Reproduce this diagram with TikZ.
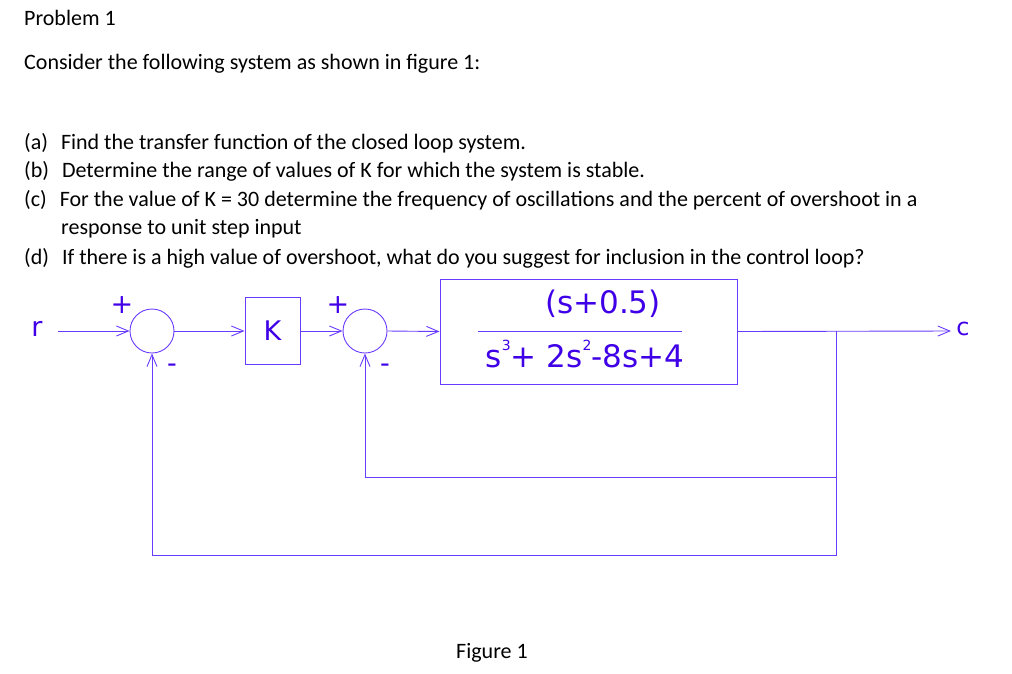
\documentclass[tikz,border=0pt]{standalone}
\usepackage{fontspec}
\setmainfont{Carlito}
\newfontfamily\djvfont{DejaVu Sans}
\usetikzlibrary{arrows.meta}
\definecolor{ln}{HTML}{6A3CFF}
\definecolor{tx}{HTML}{3F00E8}
\newcommand{\supx}[1]{\raisebox{0.55em}{\fontsize{14}{14}\selectfont #1}}
\begin{document}
\begin{tikzpicture}[x=1pt,y=-1pt,
  t/.style={anchor=west,inner sep=0pt,font=\fontsize{22}{26}\selectfont},
  w/.style={draw=ln,line width=0.9pt},
  ar/.style={w,-{Straight Barb[length=12pt,width=10pt]}},
  lab/.style={text=tx,inner sep=0pt,font=\djvfont\fontsize{27}{30}\selectfont},
  sum/.style={w,circle,minimum size=44pt,inner sep=0pt}]
\useasboundingbox (0,0) rectangle (1012,673);
\node[t] (p) at (24,18) {Problem 1};
\node[t] (c) at (24,64) {Consider the following system as shown in figure 1:};
\node[t] (a) at (24,143) {(a)\hspace{8pt} Find the transfer function of the closed loop system.};
\node[t] (b) at (24,171) {(b)\hspace{8pt} Determine the range of values of K for which the system is stable.};
\node[t] (cc) at (24,200) {(c)\hspace{8pt} For the value of K = 30 determine the frequency of oscillations and the percent of overshoot in a};
\node[t] (cc2) at (61,229) {response to unit step input};
\node[t] (d) at (24,258) {(d)\hspace{8pt} If there is a high value of overshoot, what do you suggest for inclusion in the control loop?};
\node[t,anchor=center] (f) at (492,653) {Figure 1};
\node[lab] (r) at (37,329) {r};
\coordinate (rin) at (58,331);
\node[sum] (s1) at (152,331) {};
\node[w,minimum width=55pt,minimum height=67pt,inner sep=0pt,lab] (k) at (272.5,331) {K};
\node[sum] (s2) at (365,331) {};
\node[w,minimum width=297pt,minimum height=105pt,inner sep=0pt] (g) at (588.5,331.5) {};
\node[lab,font=\djvfont\fontsize{31}{34}\selectfont] (num) at (603,304) {(s+0.5)};
\draw[w] (478,331) -- (682,331);
\node[lab,font=\djvfont\fontsize{31}{34}\selectfont] (den) at (585,354) {s\supx{3}+ 2s\supx{2}-8s+4};
\node[lab,font=\djvfont\fontsize{24}{26}\selectfont] (cl) at (963,329) {c};
\coordinate (cout) at (951,331);
\coordinate (br) at (836,331);
\coordinate (b1) at (836,477);
\coordinate (f1) at (365,477);
\coordinate (f2) at (152,555);
\node[lab] (p1) at (122,305) {+};
\node[lab] (p2) at (338,305) {+};
\node[lab] (m1) at (172,368) {-};
\node[lab] (m2) at (385,368) {-};
\draw[ar] (rin) -- (s1.west);
\draw[ar] (s1.east) -- (k.west);
\draw[ar] (k.east) -- (s2.west);
\draw[ar] (s2.east) -- (g.west);
\draw[ar] (g.east) -- (cout);
\draw[ar] (br) |- (f1) -- (s2.south);
\draw[ar] (b1) |- (f2) -- (s1.south);
\end{tikzpicture}
\end{document}
